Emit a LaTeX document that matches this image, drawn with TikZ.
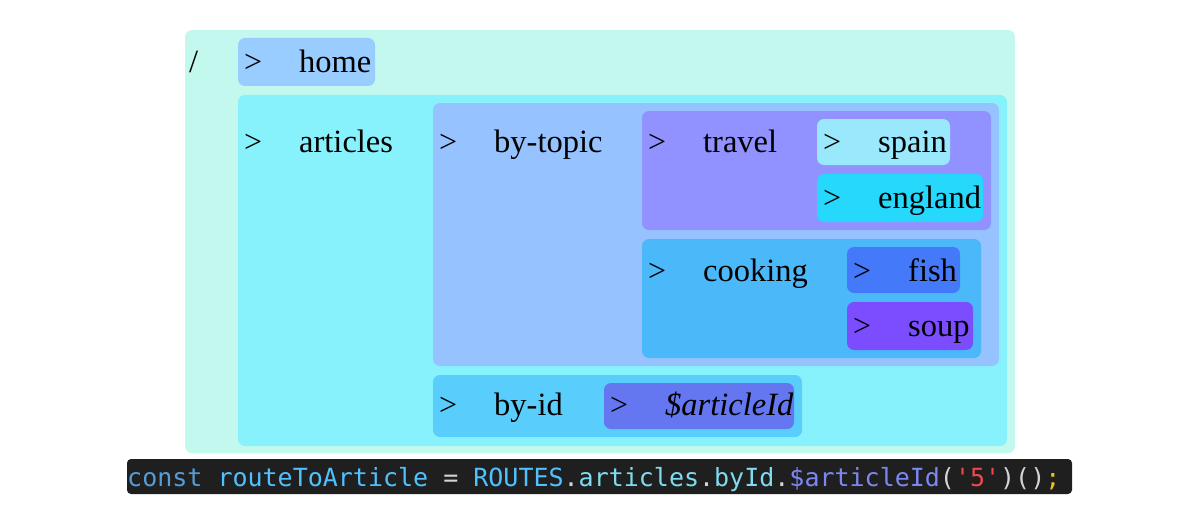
\documentclass[tikz,border=0pt]{standalone}
\usepackage{fontspec}
\setmainfont{Liberation Serif}
\newfontfamily\codefont{DejaVu Sans Mono}
\usepackage{xcolor}
\usepackage{tikz}
\definecolor{rootcolor}{HTML}{C3F8EE}
\definecolor{homecolor}{HTML}{99CCFF}
\definecolor{articlescolor}{HTML}{88F2FC}
\definecolor{bytopiccolor}{HTML}{96C3FF}
\definecolor{travelcolor}{HTML}{9191FF}
\definecolor{spaincolor}{HTML}{9AE8FC}
\definecolor{englandcolor}{HTML}{25D8FC}
\definecolor{cookingcolor}{HTML}{4BB8FA}
\definecolor{fishcolor}{HTML}{4479FA}
\definecolor{soupcolor}{HTML}{7C4DFF}
\definecolor{byidcolor}{HTML}{59CEFC}
\definecolor{articleidcolor}{HTML}{6476F0}
\definecolor{codebg}{HTML}{1F1F1F}
\definecolor{kwblue}{HTML}{569CD6}
\definecolor{varcyan}{HTML}{4FC1FF}
\definecolor{propcyan}{HTML}{7FDCF0}
\definecolor{opwhite}{HTML}{D4D4D4}
\definecolor{fncolor}{HTML}{7C88F2}
\definecolor{strred}{HTML}{F04747}
\definecolor{semiyellow}{HTML}{F0C419}

\begin{document}
\begin{tikzpicture}[x=1pt,y=-1pt,
   box/.style={rounded corners=7pt},
   arw/.style={anchor=base west,inner sep=0pt,font=\fontsize{32}{38}\selectfont},
   lbl/.style={anchor=base west,inner sep=0pt,font=\fontsize{32.5}{38}\selectfont}]
\useasboundingbox (0,0) rectangle (1200,519);
%% nested route boxes
\foreach \xl/\yt/\xr/\yb/\bcolor in {185/30/1015/453/rootcolor, 238/38/375/86/homecolor,
    238/95/1007/446/articlescolor, 433/103/999/366/bytopiccolor, 642/111/991/230/travelcolor,
    817/119/950/165/spaincolor, 817/174/983/222/englandcolor, 642/239/981/358/cookingcolor,
    847/247/960/293/fishcolor, 847/302/973/350/soupcolor, 433/375/802/437/byidcolor,
    604/383/794/429/articleidcolor}
   \fill[\bcolor,box] (\xl,\yt) rectangle (\xr,\yb);

\node[lbl] (slash) at (189,73) {/};
\foreach \n/\xl/\yb/\ltext in {home/238/73/home, articles/238/152/articles, bytopic/433/152/by-topic,
    travel/642/152/travel, spain/817/152/spain, england/817/208/england, cooking/642/281/cooking,
    fish/847/281/fish, soup/847/336/soup, byid/433/415/by-id}
   {\node[arw] (arw-\n) at (\xl+6,\yb) {>};
    \node[lbl] (lbl-\n) at (\xl+61,\yb) {\ltext};}
\node[arw] (arw-articleid) at (610,415) {>};
\node[lbl] (lbl-articleid) at (665,415) {\itshape\$articleId};

%% code line
\fill[codebg,rounded corners=4pt] (127,459) rectangle (1072,494);
\node[anchor=base west,inner sep=0pt,font=\codefont\fontsize{25}{30}\selectfont] (code) at (127,486)
   {{\color{kwblue}const} {\color{varcyan}routeToArticle} {\color{opwhite}=} {\color{varcyan}ROUTES}{\color{opwhite}.}{\color{propcyan}articles}{\color{opwhite}.}{\color{propcyan}byId}{\color{opwhite}.}{\color{fncolor}\$articleId}{\color{opwhite}(}{\color{strred}\symbol{39}5\symbol{39}}{\color{opwhite})()}{\color{semiyellow};}};
\end{tikzpicture}
\end{document}
